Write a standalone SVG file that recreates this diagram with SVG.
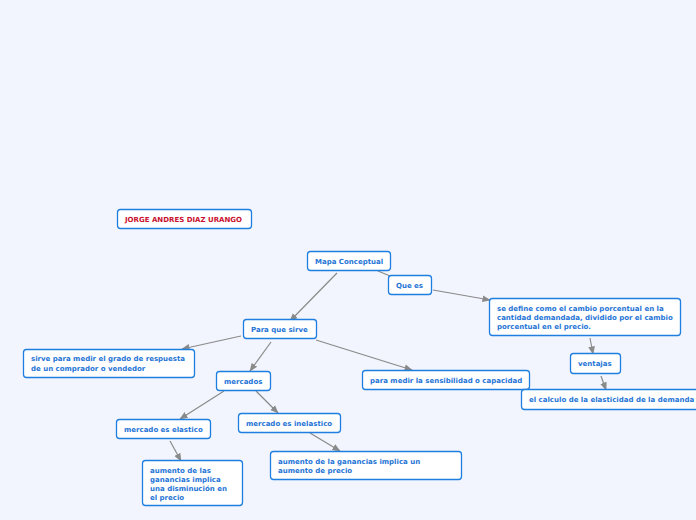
<svg xmlns="http://www.w3.org/2000/svg" width="696" height="520" viewBox="0 0 696 520">
<defs>
<marker id="a" viewBox="0 0 10 10" refX="9" refY="5" markerWidth="7" markerHeight="7" orient="auto-start-reverse"><path d="M0,1 L10,5 L0,9 z" fill="#8a8a8a"/></marker>
</defs>
<style>
.b{fill:#fff;stroke:#1f7fe0;stroke-width:1.3}
.t{font-family:"DejaVu Sans",sans-serif;font-weight:bold;font-size:7px;fill:#1e74d6}
.r{fill:#c8102e}
.c line{stroke:#8a8a8a;stroke-width:1.2}
.c .m{marker-end:url(#a)}
</style>
<rect width="696" height="520" fill="#f2f5fd"/>
<g class="c">
<line class="m" x1="337" y1="273" x2="290" y2="321"/>
<line x1="378" y1="271" x2="390" y2="276"/>
<line class="m" x1="433" y1="290" x2="490" y2="300"/>
<line class="m" x1="241" y1="336" x2="182" y2="349"/>
<line class="m" x1="271" y1="342" x2="250" y2="371"/>
<line class="m" x1="316" y1="340" x2="412" y2="370"/>
<line class="m" x1="590" y1="338" x2="593" y2="354"/>
<line class="m" x1="601" y1="376" x2="606" y2="390"/>
<line class="m" x1="224" y1="391" x2="180" y2="419"/>
<line class="m" x1="256" y1="391" x2="278" y2="413"/>
<line class="m" x1="170" y1="441" x2="181" y2="461"/>
<line class="m" x1="310" y1="433" x2="340" y2="451"/>
</g>
<g id="jorge"><rect class="b" x="117.5" y="209.5" width="134" height="19" rx="3"/><text class="t r" x="125" y="222">JORGE ANDRES DIAZ URANGO</text></g>
<g id="mapa"><rect class="b" x="307.5" y="251.5" width="83" height="19" rx="3"/><text class="t" x="315" y="264">Mapa Conceptual</text></g>
<g id="quees"><rect class="b" x="388.5" y="275.5" width="43" height="19" rx="3"/><text class="t" x="396" y="288">Que es</text></g>
<g id="para"><rect class="b" x="243.5" y="319.5" width="73" height="19" rx="3"/><text class="t" x="251" y="332">Para que sirve</text></g>
<g id="sirve"><rect class="b" x="23.5" y="349.5" width="171" height="28" rx="3"/><text class="t" x="31" y="361">sirve para medir el grado de respuesta</text><text class="t" x="31" y="371">de un comprador o vendedor</text></g>
<g id="mercados"><rect class="b" x="216.5" y="371.5" width="54" height="19" rx="3"/><text class="t" x="224" y="384">mercados</text></g>
<g id="medir"><rect class="b" x="362.5" y="370.5" width="167" height="19" rx="3"/><text class="t" x="370" y="383">para medir la sensibilidad o capacidad</text></g>
<g id="define"><rect class="b" x="489.5" y="298.5" width="191" height="37" rx="3"/><text class="t" x="497" y="311">se define como el cambio porcentual en la</text><text class="t" x="497" y="320">cantidad demandada, dividido por el cambio</text><text class="t" x="497" y="329">porcentual en el precio.</text></g>
<g id="ventajas"><rect class="b" x="570.5" y="353.5" width="50" height="20" rx="3"/><text class="t" x="578" y="366">ventajas</text></g>
<g id="calculo"><rect class="b" x="521.5" y="389.5" width="180" height="20" rx="3"/><text class="t" x="529" y="402">el calculo de la elasticidad de la demanda</text></g>
<g id="elastico"><rect class="b" x="116.5" y="419.5" width="94" height="19" rx="3"/><text class="t" x="124" y="432">mercado es elastico</text></g>
<g id="inelastico"><rect class="b" x="238.5" y="413.5" width="102" height="19" rx="3"/><text class="t" x="246" y="426">mercado es inelastico</text></g>
<g id="aum1"><rect class="b" x="142.5" y="460.5" width="100" height="45" rx="3"/><text class="t" x="150" y="473">aumento de las</text><text class="t" x="150" y="482">ganancias implica</text><text class="t" x="150" y="491">una disminución en</text><text class="t" x="150" y="500">el precio</text></g>
<g id="aum2"><rect class="b" x="270.5" y="451.5" width="191" height="28" rx="3"/><text class="t" x="278" y="464">aumento de la ganancias implica  un</text><text class="t" x="278" y="473">aumento de precio</text></g>
</svg>
